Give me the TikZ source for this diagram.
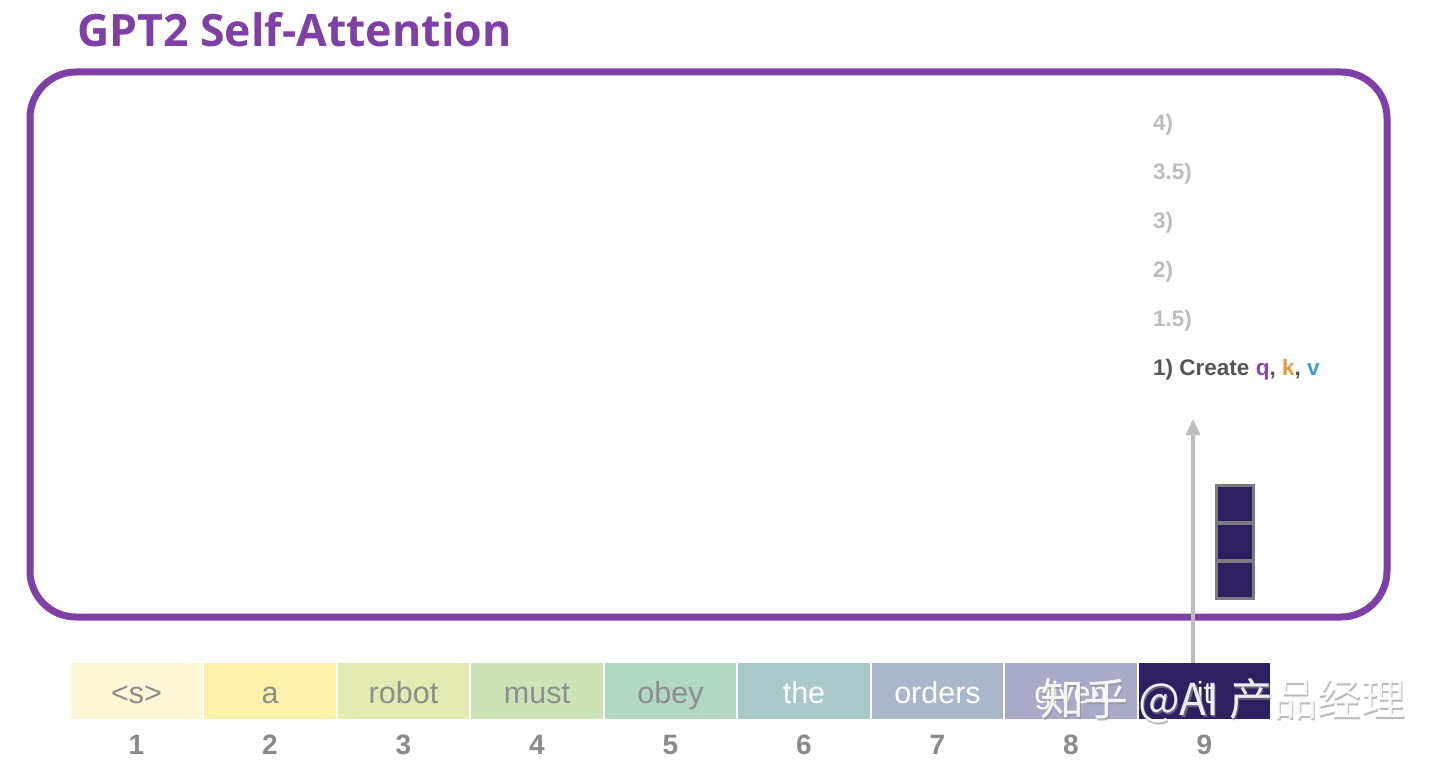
\documentclass[tikz,border=0pt]{standalone}
\usepackage{fontspec}
\setmainfont{Liberation Sans}
\newfontfamily\titlefont{Open Sans}
\newfontfamily\cjkfont{Noto Sans CJK SC}
\usetikzlibrary{arrows.meta}
\definecolor{border}{HTML}{7E3FA6}
\definecolor{ca}{HTML}{FEF7D6}
\definecolor{cb}{HTML}{FDF0A8}
\definecolor{cc}{HTML}{E4EBB0}
\definecolor{cd}{HTML}{CCE3B8}
\definecolor{ce}{HTML}{B2D8C4}
\definecolor{cf}{HTML}{A9C8C8}
\definecolor{cg}{HTML}{A9B7CA}
\definecolor{ch}{HTML}{A8AAC8}
\definecolor{ci}{HTML}{2E2060}
\definecolor{tokgray}{HTML}{8E8E8E}
\definecolor{numgray}{HTML}{8A8A8A}
\definecolor{stepgray}{HTML}{BDBDBD}
\definecolor{stepdark}{HTML}{555555}
\definecolor{qcol}{HTML}{8E44AD}
\definecolor{kcol}{HTML}{E8963C}
\definecolor{vcol}{HTML}{3A9AD9}
\definecolor{arrgray}{HTML}{BDBDBD}
\definecolor{cellborder}{HTML}{7A7A80}
\tikzset{
  tok/.style={minimum width=131.5pt, minimum height=56pt, inner sep=0pt, draw=none,
    text height=28pt, text depth=4pt,
    font=\fontsize{30.5}{32}\selectfont, text=tokgray, anchor=center},
  num/.style={font=\fontsize{28}{30}\selectfont\bfseries, text=numgray, inner sep=0pt},
  steplbl/.style={font=\fontsize{22.5}{24}\selectfont\bfseries, text=stepgray, anchor=west, inner sep=0pt},
  cell/.style={draw=cellborder, line width=3pt, fill=ci, minimum width=37pt, minimum height=37.5pt, inner sep=0pt},
  wmark/.style={anchor=west, inner sep=0pt, font=\cjkfont\fontsize{44}{46}\selectfont},
}
\begin{document}
\begin{tikzpicture}[x=1pt,y=-1pt]
\useasboundingbox (0,0) rectangle (1440,760);
% title
\node[anchor=base west, inner sep=0pt, text=border, font=\titlefont\fontsize{44.6}{48}\selectfont\bfseries] (title) at (77,47) {GPT2 Self-Attention};
% frame
\draw[border, line width=7pt, rounded corners=46pt] (30,72) rectangle (1387,617);
% tokens
\node[tok, fill=ca] (t1) at (136.5,691) {<s>};
\node[tok, fill=cb] (t2) at (270,691) {a};
\node[tok, fill=cc] (t3) at (403.5,691) {robot};
\node[tok, fill=cd] (t4) at (537,691) {must};
\node[tok, fill=ce] (t5) at (670.5,691) {obey};
\node[tok, fill=cf, text=white] (t6) at (804,691) {the};
\node[tok, fill=cg, text=white] (t7) at (937.5,691) {orders};
\node[tok, fill=ch, text=white] (t8) at (1071,691) {given};
\node[tok, fill=ci, text=white] (t9) at (1204.5,691) {it};
% numbers
\foreach \i/\x in {1/136.5,2/270,3/403.5,4/537,5/670.5,6/804,7/937.5,8/1071,9/1204.5}
  \node[num] (n\i) at (\x,745) {\i};
% step labels
\node[steplbl] (s4) at (1153,125) {4)};
\node[steplbl] (s35) at (1153,174) {3.5)};
\node[steplbl] (s3) at (1153,223) {3)};
\node[steplbl] (s2) at (1153,272) {2)};
\node[steplbl] (s15) at (1153,321) {1.5)};
\node[steplbl, text=stepdark] (s1) at (1153,370) {1) Create \textcolor{qcol}{q}, \textcolor{kcol}{k}, \textcolor{vcol}{v}};
% arrow
\coordinate (atip) at (1193,419);
\draw[arrgray, line width=3.5pt, -{Triangle[width=14pt,length=16pt]}] (t9.north -| atip) -- (atip);
% vector
\node[cell] (v1) at (1234.5,504) {};
\node[cell] (v2) at (1234.5,542) {};
\node[cell] (v3) at (1234.5,580) {};
% watermark
\node[wmark, text=black!45, opacity=0.6] (wms) at (1041.5,702.5) {知乎 @AI 产品经理};
\node[wmark, text=white, opacity=0.9] (wm) at (1040,701) {知乎 @AI 产品经理};
\end{tikzpicture}
\end{document}
